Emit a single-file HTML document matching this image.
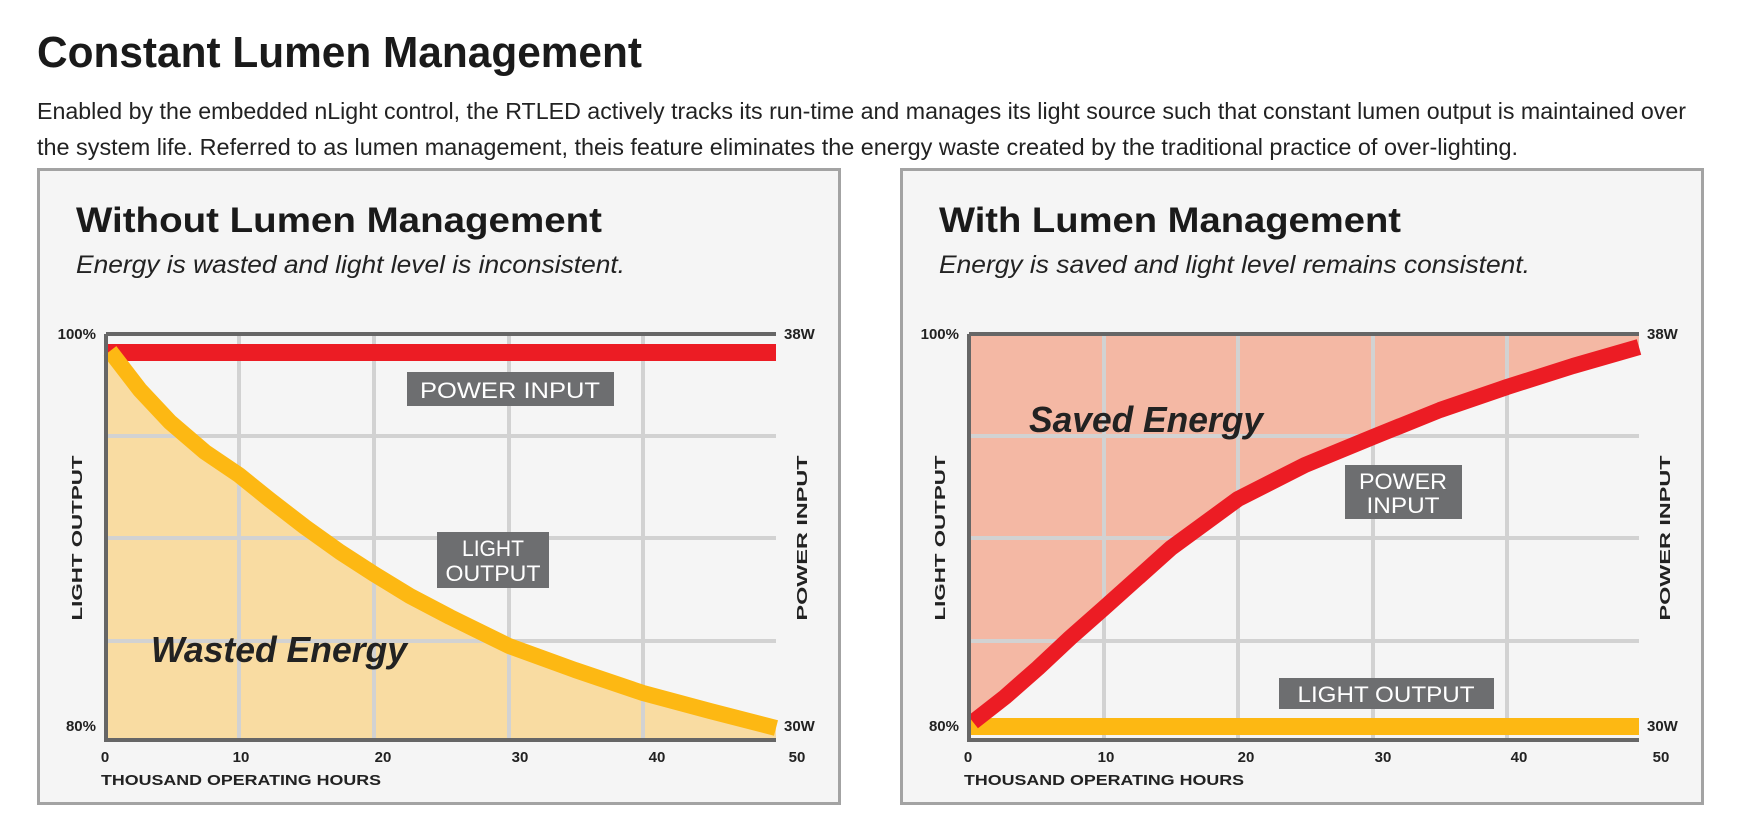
<!DOCTYPE html>
<html><head><meta charset="utf-8"><style>
html,body{margin:0;padding:0;background:#fff}
svg{display:block}
text{font-family:"Liberation Sans",sans-serif}
</style></head><body>
<svg width="1748" height="816" viewBox="0 0 1748 816" xmlns="http://www.w3.org/2000/svg">
<rect width="1748" height="816" fill="#fff"/>
<text x="37" y="67" font-size="44" font-weight="bold" fill="#1a1a1a" textLength="605" lengthAdjust="spacingAndGlyphs">Constant Lumen Management</text>
<text x="37" y="119" font-size="23" fill="#222" textLength="1649" lengthAdjust="spacingAndGlyphs">Enabled by the embedded nLight control, the RTLED actively tracks its run-time and manages its light source such that constant lumen output is maintained over</text>
<text x="37" y="155" font-size="23" fill="#222" textLength="1481" lengthAdjust="spacingAndGlyphs">the system life. Referred to as lumen management, theis feature eliminates the energy waste created by the traditional practice of over-lighting.</text>

<!-- LEFT PANEL -->
<rect x="38.5" y="169.5" width="801" height="634" fill="#f5f5f5" stroke="#a3a3a3" stroke-width="3"/>
<text x="76" y="232" font-size="35" font-weight="bold" fill="#1a1a1a" textLength="526" lengthAdjust="spacingAndGlyphs">Without Lumen Management</text>
<text x="76" y="273" font-size="25" font-style="italic" fill="#222" textLength="549" lengthAdjust="spacingAndGlyphs">Energy is wasted and light level is inconsistent.</text>
<polygon points="110,351 140,390 170,422 205,452 239,475 270,500 305,527 340,552 374,574 410,596 450,617 509,646 575,670 643,693 710,711 776,728 776,740 106,740 106,351" fill="#f9dca2"/>
<g stroke="#d2d2d2" stroke-width="4">
<line x1="239" y1="334" x2="239" y2="740"/><line x1="374" y1="334" x2="374" y2="740"/><line x1="509" y1="334" x2="509" y2="740"/><line x1="643" y1="334" x2="643" y2="740"/>
<line x1="106" y1="436" x2="776" y2="436"/><line x1="106" y1="538" x2="776" y2="538"/><line x1="106" y1="641" x2="776" y2="641"/>
</g>
<rect x="106" y="344" width="670" height="17" fill="#ec1c24"/>
<polyline points="110,351 140,390 170,422 205,452 239,475 270,500 305,527 340,552 374,574 410,596 450,617 509,646 575,670 643,693 710,711 776,728" fill="none" stroke="#fdb813" stroke-width="16" stroke-linejoin="round"/>
<path d="M106,334 V740 H776 M106,334 H776" fill="none" stroke="#666" stroke-width="4"/>
<rect x="407" y="372" width="207" height="34" fill="#6d6e70"/>
<text x="510" y="398" font-size="22" fill="#fff" text-anchor="middle" textLength="180" lengthAdjust="spacingAndGlyphs">POWER INPUT</text>
<rect x="437" y="532" width="112" height="56" fill="#6d6e70"/>
<text x="493" y="556" font-size="22" fill="#fff" text-anchor="middle" textLength="62" lengthAdjust="spacingAndGlyphs">LIGHT</text>
<text x="493" y="581" font-size="22" fill="#fff" text-anchor="middle" textLength="95" lengthAdjust="spacingAndGlyphs">OUTPUT</text>
<text x="151" y="662" font-size="36" font-weight="bold" font-style="italic" fill="#222" textLength="256" lengthAdjust="spacingAndGlyphs">Wasted Energy</text>
<g font-size="15" font-weight="bold" fill="#222">
<text x="96" y="339" text-anchor="end">100%</text><text x="96" y="731" text-anchor="end">80%</text>
<text x="784" y="339">38W</text><text x="784" y="731">30W</text>
<text x="105" y="762" text-anchor="middle">0</text><text x="241" y="762" text-anchor="middle">10</text><text x="383" y="762" text-anchor="middle">20</text><text x="520" y="762" text-anchor="middle">30</text><text x="657" y="762" text-anchor="middle">40</text><text x="797" y="762" text-anchor="middle">50</text>
<text x="101" y="785" textLength="280" lengthAdjust="spacingAndGlyphs">THOUSAND OPERATING HOURS</text>
<text transform="translate(82,538) rotate(-90)" text-anchor="middle" textLength="165" lengthAdjust="spacingAndGlyphs">LIGHT OUTPUT</text>
<text transform="translate(807,538) rotate(-90)" text-anchor="middle" textLength="165" lengthAdjust="spacingAndGlyphs">POWER INPUT</text>
</g>

<!-- RIGHT PANEL -->
<rect x="901.5" y="169.5" width="801" height="634" fill="#f5f5f5" stroke="#a3a3a3" stroke-width="3"/>
<text x="939" y="232" font-size="35" font-weight="bold" fill="#1a1a1a" textLength="462" lengthAdjust="spacingAndGlyphs">With Lumen Management</text>
<text x="939" y="273" font-size="25" font-style="italic" fill="#222" textLength="591" lengthAdjust="spacingAndGlyphs">Energy is saved and light level remains consistent.</text>
<polygon points="969,334 1639,334 1639,347 1573,366 1507,387 1440,410 1373,437 1305,465 1238,499 1171,548 1104,608 1070,640 1038,670 1005,700 973,724 969,726" fill="#f4b8a4"/>
<g stroke="#d2d2d2" stroke-width="4">
<line x1="1104" y1="334" x2="1104" y2="740"/><line x1="1238" y1="334" x2="1238" y2="740"/><line x1="1373" y1="334" x2="1373" y2="740"/><line x1="1507" y1="334" x2="1507" y2="740"/>
<line x1="969" y1="436" x2="1639" y2="436"/><line x1="969" y1="538" x2="1639" y2="538"/><line x1="969" y1="641" x2="1639" y2="641"/>
</g>
<rect x="969" y="718" width="670" height="17" fill="#fdb813"/>
<polyline points="973,722 1005,697 1038,668 1070,638 1104,608 1171,548 1238,499 1305,465 1373,437 1440,410 1507,387 1573,366 1639,347" fill="none" stroke="#ec1c24" stroke-width="16" stroke-linejoin="round"/>
<path d="M969,334 V740 H1639 M969,334 H1639" fill="none" stroke="#666" stroke-width="4"/>
<rect x="1345" y="465" width="117" height="54" fill="#6d6e70"/>
<text x="1403" y="489" font-size="22" fill="#fff" text-anchor="middle" textLength="88" lengthAdjust="spacingAndGlyphs">POWER</text>
<text x="1403" y="513" font-size="22" fill="#fff" text-anchor="middle" textLength="73" lengthAdjust="spacingAndGlyphs">INPUT</text>
<rect x="1279" y="678" width="215" height="31" fill="#6d6e70"/>
<text x="1386" y="702" font-size="22" fill="#fff" text-anchor="middle" textLength="177" lengthAdjust="spacingAndGlyphs">LIGHT OUTPUT</text>
<text x="1029" y="432" font-size="36" font-weight="bold" font-style="italic" fill="#222" textLength="234" lengthAdjust="spacingAndGlyphs">Saved Energy</text>
<g font-size="15" font-weight="bold" fill="#222">
<text x="959" y="339" text-anchor="end">100%</text><text x="959" y="731" text-anchor="end">80%</text>
<text x="1647" y="339">38W</text><text x="1647" y="731">30W</text>
<text x="968" y="762" text-anchor="middle">0</text><text x="1106" y="762" text-anchor="middle">10</text><text x="1246" y="762" text-anchor="middle">20</text><text x="1383" y="762" text-anchor="middle">30</text><text x="1519" y="762" text-anchor="middle">40</text><text x="1661" y="762" text-anchor="middle">50</text>
<text x="964" y="785" textLength="280" lengthAdjust="spacingAndGlyphs">THOUSAND OPERATING HOURS</text>
<text transform="translate(945,538) rotate(-90)" text-anchor="middle" textLength="165" lengthAdjust="spacingAndGlyphs">LIGHT OUTPUT</text>
<text transform="translate(1670,538) rotate(-90)" text-anchor="middle" textLength="165" lengthAdjust="spacingAndGlyphs">POWER INPUT</text>
</g>
</svg>
</body></html>
